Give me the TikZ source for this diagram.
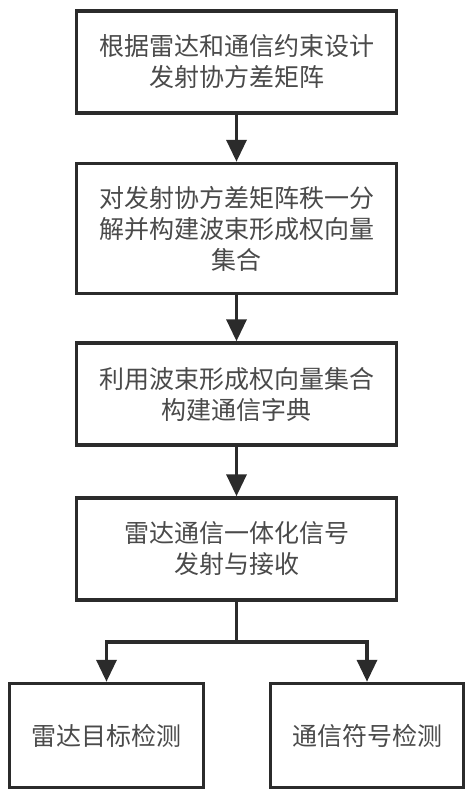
\documentclass[tikz,border=0pt]{standalone}
\usepackage{fontspec}
\setmainfont{Noto Sans CJK SC}
\usetikzlibrary{arrows.meta}
\definecolor{linegray}{HTML}{2B2B2B}
\definecolor{textgray}{HTML}{4A4A4A}

\begin{document}
\begin{tikzpicture}[x=1pt,y=-1pt,
  stepbox/.style={draw=linegray,line width=3.5pt,fill=white,align=center,
    text=textgray,font=\fontsize{25}{31}\selectfont,
    minimum width=320pt,minimum height=102pt,inner sep=0pt},
  flow/.style={draw=linegray,line width=3.5pt,-{Triangle[width=20pt,length=22pt]}}]
\useasboundingbox (0,0) rectangle (474,797);
\node[stepbox] (design) at (236.5,62) {根据雷达和通信约束设计\\发射协方差矩阵};
\node[stepbox,minimum height=130pt] (decomp) at (236.5,228.5) {对发射协方差矩阵秩一分\\解并构建波束形成权向量\\集合};
\node[stepbox] (dict) at (236.5,394) {利用波束形成权向量集合\\构建通信字典};
\node[stepbox] (txrx) at (236.5,549) {雷达通信一体化信号\\发射与接收};
\node[stepbox,minimum width=194pt,minimum height=104pt] (radar) at (106.5,735.5) {雷达目标检测};
\node[stepbox,minimum width=193pt,minimum height=104pt] (comm) at (367,735.5) {通信符号检测};
\coordinate (split) at (236.5,642);
\draw[flow] (design) -- (decomp);
\draw[flow] (decomp) -- (dict);
\draw[flow] (dict) -- (txrx);
\draw[draw=linegray,line width=3.5pt] (txrx) -- (split);
\draw[flow] (split) -| (radar);
\draw[flow] (split) -| (comm);
\end{tikzpicture}
\end{document}
